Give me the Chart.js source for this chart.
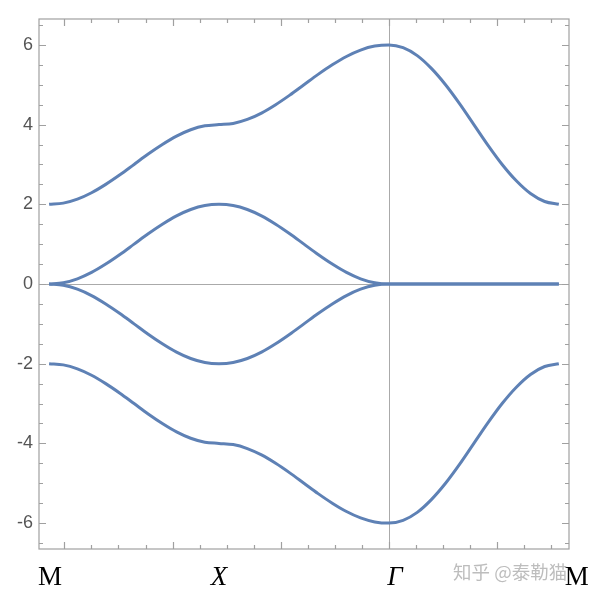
<!DOCTYPE html>
<html>
<head>
<meta charset="utf-8">
<script src="https://cdn.jsdelivr.net/npm/chart.js@4"></script>
<style>
  html, body { margin: 0; padding: 0; background: #fff; }
  #bands { display: block; }
</style>
</head>
<body>
<canvas id="bands" width="600" height="597"></canvas>
<script>
// k along the path M -> X -> Gamma -> M
const kPos = [-6.283, -6.021, -5.760, -5.498, -5.236, -4.974, -4.712, -4.451, -4.189, -3.927, -3.665, -3.403, -3.142,
  -2.880, -2.618, -2.356, -2.094, -1.833, -1.571, -1.309, -1.047, -0.785, -0.524, -0.262, 0,
  0.262, 0.524, 0.785, 1.047, 1.309, 1.571, 1.833, 2.094, 2.356, 2.618, 2.880, 3.142];

const band1 = [2, 2.03, 2.13, 2.29, 2.5, 2.74, 3, 3.26, 3.5, 3.71, 3.87, 3.97, 4,
  4.03, 4.13, 4.29, 4.5, 4.74, 5, 5.26, 5.5, 5.71, 5.87, 5.97, 6,
  5.93, 5.73, 5.41, 5, 4.52, 4, 3.48, 3, 2.59, 2.27, 2.07, 2];
const band2 = [0, 0.03, 0.13, 0.29, 0.5, 0.74, 1, 1.26, 1.5, 1.71, 1.87, 1.97, 2,
  1.97, 1.87, 1.71, 1.5, 1.26, 1, 0.74, 0.5, 0.29, 0.13, 0.03, 0,
  0, 0, 0, 0, 0, 0, 0, 0, 0, 0, 0, 0];
const band3 = [0, -0.03, -0.13, -0.29, -0.5, -0.74, -1, -1.26, -1.5, -1.71, -1.87, -1.97, -2,
  -1.97, -1.87, -1.71, -1.5, -1.26, -1, -0.74, -0.5, -0.29, -0.13, -0.03, 0,
  0, 0, 0, 0, 0, 0, 0, 0, 0, 0, 0, 0];
const band4 = [-2, -2.03, -2.13, -2.29, -2.5, -2.74, -3, -3.26, -3.5, -3.71, -3.87, -3.97, -4,
  -4.03, -4.13, -4.29, -4.5, -4.74, -5, -5.26, -5.5, -5.71, -5.87, -5.97, -6,
  -5.93, -5.73, -5.41, -5, -4.52, -4, -3.48, -3, -2.59, -2.27, -2.07, -2];

const yTicks = [-6, -4, -2, 0, 2, 4, 6];
const pathLabels = ["M", "X", "Γ", "M"];
const pathPos = [-6.283, -3.142, 0, 3.142];

const lineColor = "rgb(94,129,181)";
const frameColor = "#a0a0a0";

const toPoints = (ys) => ys.map((y, i) => ({ x: kPos[i], y: y }));

// frame with inward ticks, zero lines, path labels, watermark
const framePlugin = {
  id: "frame",
  beforeDatasetsDraw(chart) {
    const { ctx, chartArea: a, scales: { x, y } } = chart;
    ctx.save();
    ctx.strokeStyle = "#aaaaaa";
    ctx.lineWidth = 1;
    const y0 = Math.round(y.getPixelForValue(0)) + 0.5;
    const x0 = Math.round(x.getPixelForValue(0)) + 0.5;
    ctx.beginPath();
    ctx.moveTo(a.left, y0);
    ctx.lineTo(a.right, y0);
    ctx.moveTo(x0, a.top);
    ctx.lineTo(x0, a.bottom);
    ctx.stroke();
    ctx.restore();
  },
  afterDatasetsDraw(chart) {
    const { ctx, chartArea: a, scales: { x, y } } = chart;
    ctx.save();
    ctx.strokeStyle = frameColor;
    ctx.lineWidth = 1.2;
    ctx.strokeRect(a.left, a.top, a.right - a.left, a.bottom - a.top);
    ctx.beginPath();
    for (let v = -6.5; v <= 6.5; v += 0.5) {
      const py = Math.round(y.getPixelForValue(v)) + 0.5;
      const len = v % 2 === 0 ? 7 : 4;
      ctx.moveTo(a.left, py);
      ctx.lineTo(a.left + len, py);
      ctx.moveTo(a.right, py);
      ctx.lineTo(a.right - len, py);
    }
    for (let v = -6; v <= 3; v += 0.5) {
      const px = Math.round(x.getPixelForValue(v)) + 0.5;
      const len = v % 2 === 0 ? 7 : 4;
      ctx.moveTo(px, a.top);
      ctx.lineTo(px, a.top + len);
      ctx.moveTo(px, a.bottom);
      ctx.lineTo(px, a.bottom - len);
    }
    ctx.stroke();
    ctx.restore();
  },
  afterDraw(chart) {
    const { ctx, scales: { x } } = chart;
    ctx.save();
    ctx.fillStyle = "rgba(185,185,185,0.95)";
    ctx.font = "18.5px 'Noto Sans CJK SC'";
    ctx.textAlign = "left";
    ctx.textBaseline = "alphabetic";
    ctx.fillText("知乎 @泰勒猫", 453, 579);

    ctx.fillStyle = "#000";
    ctx.textAlign = "center";
    const nudge = [1, 0, 6, 18];
    pathLabels.forEach((lab, i) => {
      const italic = lab !== "M";
      ctx.font = (italic ? "italic " : "") + "27px 'Liberation Serif'";
      ctx.fillText(lab, x.getPixelForValue(pathPos[i]) + nudge[i], 585);
    });
    ctx.restore();
  }
};

const dataset = (ys) => ({
  data: toPoints(ys),
  borderColor: lineColor,
  borderWidth: 3,
  pointRadius: 0,
  fill: false,
  cubicInterpolationMode: "monotone"
});

new Chart(document.getElementById("bands").getContext("2d"), {
  type: "line",
  data: {
    datasets: [dataset(band1), dataset(band2), dataset(band3), dataset(band4)]
  },
  options: {
    responsive: false,
    animation: false,
    events: [],
    layout: { padding: { top: 19, right: 31, left: 0, bottom: 0 } },
    plugins: { legend: { display: false }, tooltip: { enabled: false } },
    scales: {
      x: {
        type: "linear",
        min: -6.47,
        max: 3.33,
        grid: { display: false, drawTicks: false },
        border: { display: false },
        ticks: { display: false },
        afterFit(scale) { scale.height = 48; }
      },
      y: {
        min: -6.65,
        max: 6.65,
        grid: { display: false, drawTicks: false },
        border: { display: false },
        afterBuildTicks(scale) { scale.ticks = yTicks.map((v) => ({ value: v })); },
        ticks: {
          color: "#555",
          padding: 6,
          font: { family: "'Liberation Sans', Arial, sans-serif", size: 18 }
        },
        afterFit(scale) { scale.width = 39; }
      }
    }
  },
  plugins: [framePlugin]
});
</script>
</body>
</html>
